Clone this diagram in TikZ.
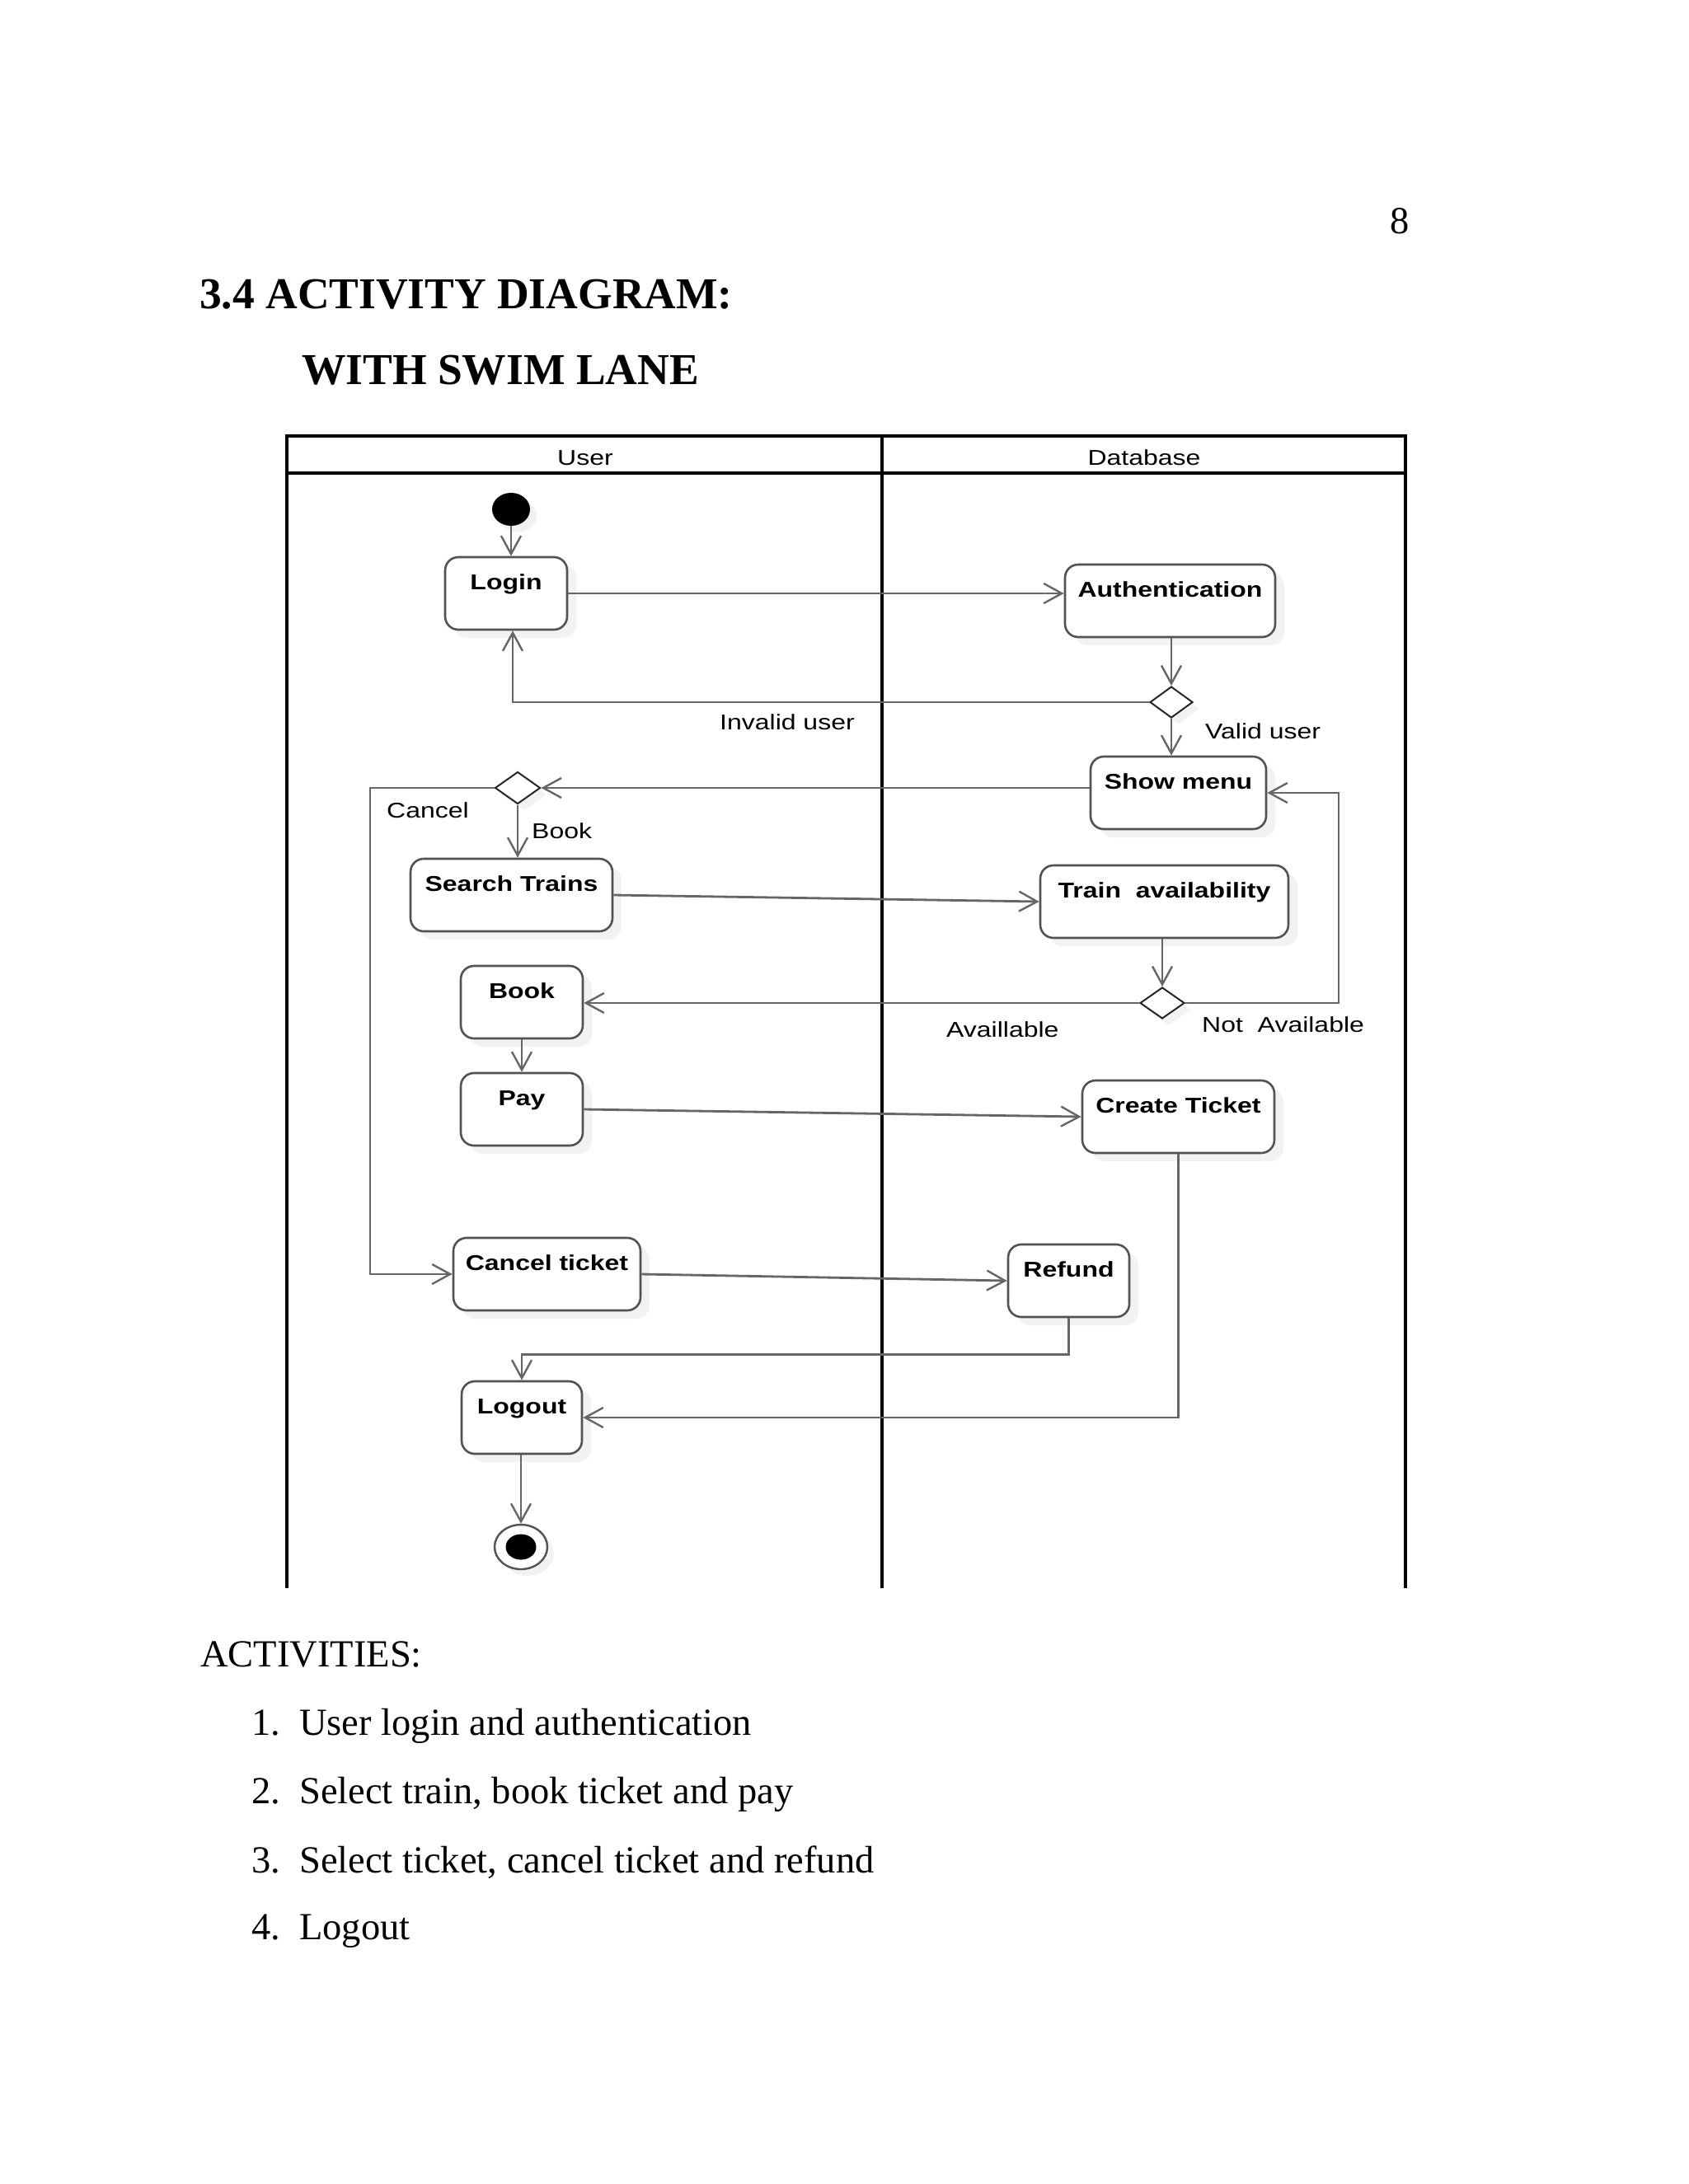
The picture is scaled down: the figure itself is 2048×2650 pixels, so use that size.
\documentclass[tikz,border=0pt]{standalone}
\usepackage{fontspec}
\usepackage{graphicx}
\setmainfont{Liberation Serif}
\newfontfamily\arialf{Liberation Sans}
\usetikzlibrary{arrows.meta,shapes.geometric,shadows}
\newcommand{\wx}[1]{\scalebox{1.23}[1]{#1}}
\definecolor{boxc}{gray}{0.32}
\definecolor{conn}{gray}{0.40}
\begin{document}
\begin{tikzpicture}[x=1pt,y=-1pt,
  act/.style={draw=boxc, line width=2.6pt, rounded corners=16pt, fill=white,
    inner xsep=0pt, inner ysep=0pt, text height=39pt, text depth=49pt,
    font=\arialf\bfseries\fontsize{26}{30}\selectfont,
    drop shadow={shadow xshift=11pt, shadow yshift=-10pt, opacity=0.10}},
  dec/.style={diamond, draw=black!85, line width=2pt, fill=white, inner sep=0pt,
    drop shadow={shadow xshift=8pt, shadow yshift=-8pt, opacity=0.10}},
  lab/.style={font=\arialf\fontsize{26}{30}\selectfont, inner sep=0pt},
  lane/.style={line width=4.5pt, draw=black},
  flow/.style={draw=conn, line width=2.8pt,
    -{Straight Barb[length=22pt,width=24pt,line width=2.4pt]}},
  pagetxt/.style={font=\fontsize{46.5}{56}\selectfont, inner sep=0pt, anchor=base west},
  headtxt/.style={font=\bfseries\fontsize{53.5}{62}\selectfont, inner sep=0pt, anchor=base west}
]
\fill[white] (0,0) rectangle (2048,2650);
\useasboundingbox (0,0) rectangle (2048,2650);

% page texts
\node[font=\fontsize{46.5}{56}\selectfont, inner sep=0pt, anchor=base] (pnum) at (1698,283) {8};
\node[headtxt] (h1) at (242,374) {3.4 ACTIVITY DIAGRAM:};
\node[headtxt] (h2) at (366,466) {WITH SWIM LANE};

% swim lanes
\draw[lane] (348,529) -- (1705,529);
\draw[lane] (348,574) -- (1705,574);
\draw[lane] (348,527) -- (348,1927);
\draw[lane] (1070,527) -- (1070,1927);
\draw[lane] (1705,527) -- (1705,1927);
\node[lab, anchor=base] (luser) at (710,564) {\wx{User}};
\node[lab, anchor=base] (ldb) at (1388,564) {\wx{Database}};

% nodes
\node[ellipse, fill=black, minimum width=46pt, minimum height=40pt, inner sep=0pt,
  drop shadow={shadow xshift=8pt, shadow yshift=-8pt, opacity=0.10}] (init) at (620,618) {};
\node[act, minimum width=148pt] (login) at (614,720) {\wx{Login}};
\node[act, minimum width=255pt] (auth) at (1419.5,729) {\wx{Authentication}};
\node[dec, minimum width=52pt, minimum height=38pt] (dec1) at (1421,852) {};
\node[act, minimum width=213pt] (menu) at (1429.5,962) {\wx{Show menu}};
\node[dec, minimum width=55pt, minimum height=39pt] (dec2) at (628,956) {};
\node[act, minimum width=245pt] (search) at (620.5,1086) {\wx{Search Trains}};
\node[act, minimum width=301pt] (avail) at (1412.5,1094) {\wx{Train\ \ availability}};
\node[dec, minimum width=54pt, minimum height=38pt] (dec3) at (1410,1217) {};
\node[act, minimum width=148pt] (book) at (633,1216) {\wx{Book}};
\node[act, minimum width=148pt] (pay) at (633,1346) {\wx{Pay}};
\node[act, minimum width=233pt] (create) at (1429.5,1355) {\wx{Create Ticket}};
\node[act, minimum width=227pt] (canc) at (663.5,1546) {\wx{Cancel ticket}};
\node[act, minimum width=147pt] (refund) at (1296.5,1554) {\wx{Refund}};
\node[act, minimum width=146pt] (logout) at (633,1720) {\wx{Logout}};
\node[ellipse, draw=boxc, line width=2.4pt, fill=white, minimum width=64pt, minimum height=54pt, inner sep=0pt,
  drop shadow={shadow xshift=8pt, shadow yshift=-8pt, opacity=0.10}] (endo) at (632,1877) {};
\node[ellipse, fill=black, minimum width=37pt, minimum height=31pt, inner sep=0pt] (endi) at (endo) {};

\coordinate (cl) at (449,956);
\coordinate (nr) at (1624,1217);

% connectors
\draw[flow] (init.south) -- (init.south |- login.north);
\draw[flow] (login.east) -- (login.east -| auth.west);
\draw[flow] (dec1 |- auth.south) -- (dec1.north);
\draw[flow] (dec1.west) -| ([xshift=8pt]login.south);
\draw[flow] (dec1.south) -- (dec1.south |- menu.north);
\draw[flow] (dec2.east -| menu.west) -- (dec2.east);
\draw[flow] (dec2.south) -- (dec2.south |- search.north);
\draw[flow] (dec2.west) -- (cl) |- (canc.west);
\draw[flow] (search.east) -- (avail.west);
\draw[flow] (avail.south -| dec3) -- (dec3.north);
\draw[flow] (dec3.west) -- (dec3.west -| book.east);
\draw[flow] (dec3.east) -- (nr) |- (menu.east);
\draw[flow] (book.south) -- (pay.north);
\draw[flow] (pay.east) -- (create.west);
\draw[flow] (create.south) |- (logout.east);
\draw[flow] (canc.east) -- (refund.west);
\draw[flow] (refund.south) -- ++(0,44) -| (logout.north);
\draw[flow] (logout.south -| endo) -- (endo.north);

% connector labels
\node[lab, anchor=base west] (tinv) at (873,885) {\wx{Invalid user}};
\node[lab, anchor=base west] (tval) at (1462,896) {\wx{Valid user}};
\node[lab, anchor=base west] (tcan) at (469,992) {\wx{Cancel}};
\node[lab, anchor=base west] (tbook) at (645,1017) {\wx{Book}};
\node[lab, anchor=base west] (tav) at (1148,1258) {\wx{Availlable}};
\node[lab, anchor=base west] (tnav) at (1458,1252) {\wx{Not\ \ Available}};

% activities
\node[pagetxt] (act0) at (243,2022) {ACTIVITIES:};
\node[pagetxt] (n1) at (305,2105) {1.};
\node[pagetxt] (t1) at (363,2105) {User login and authentication};
\node[pagetxt] (n2) at (305,2188) {2.};
\node[pagetxt] (t2) at (363,2188) {Select train, book ticket and pay};
\node[pagetxt] (n3) at (305,2272) {3.};
\node[pagetxt] (t3) at (363,2272) {Select ticket, cancel ticket and refund};
\node[pagetxt] (n4) at (305,2353) {4.};
\node[pagetxt] (t4) at (363,2353) {Logout};
\end{tikzpicture}
\end{document}
